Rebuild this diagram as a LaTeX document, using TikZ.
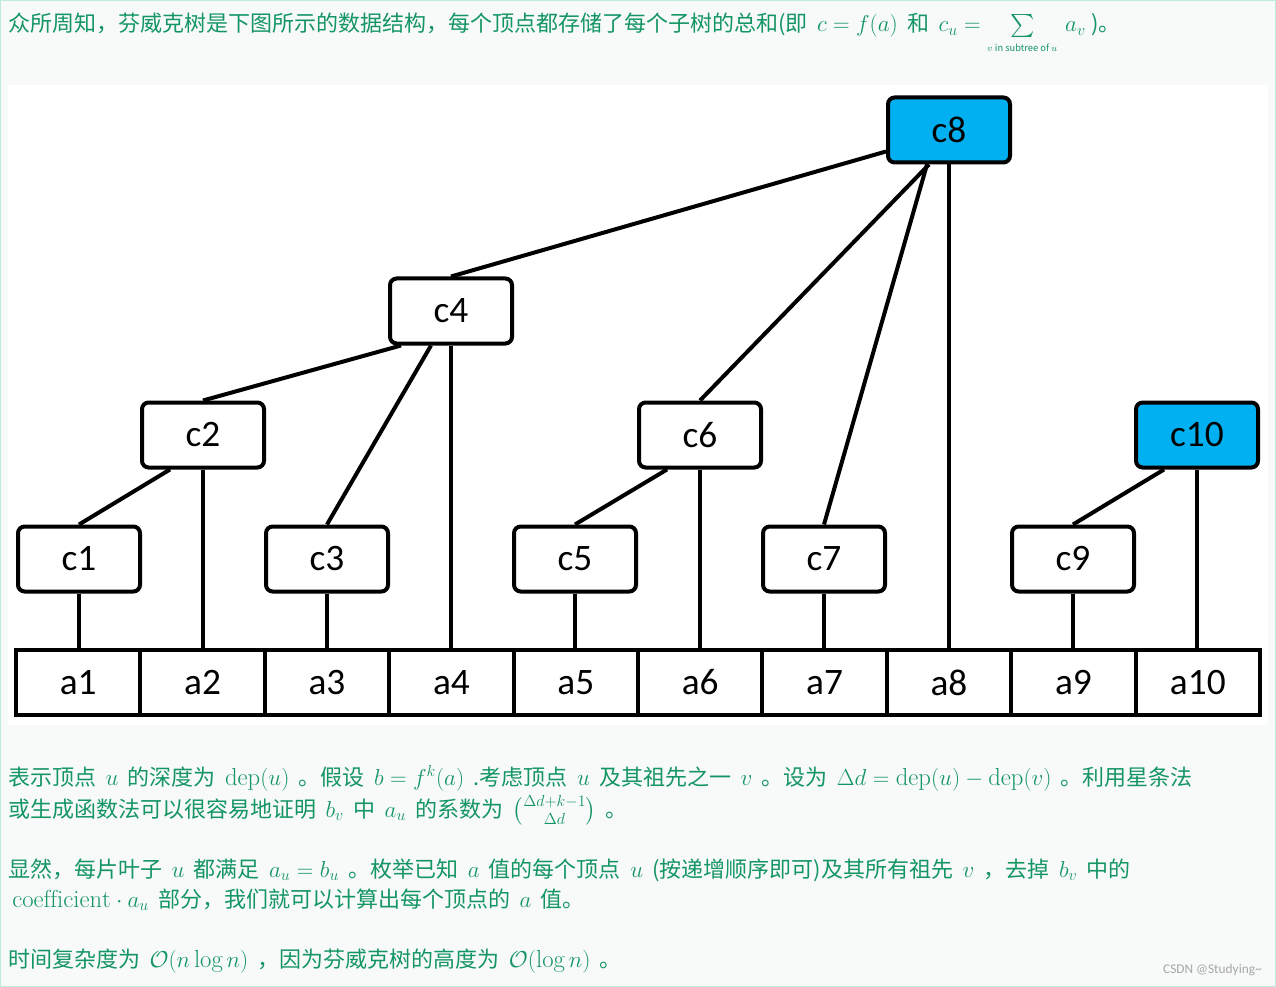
\documentclass[tikz,border=0pt]{standalone}
\usepackage{amsmath}
\usepackage{fontspec}
\setmainfont{Noto Sans CJK SC}
\setsansfont{Carlito}
\setmathrm{Latin Modern Roman}
\definecolor{tg}{RGB}{20,150,100}
\definecolor{cb}{RGB}{0,176,240}
\definecolor{pg}{RGB}{248,249,249}
\definecolor{bd}{RGB}{190,235,220}
\newcommand{\M}[1]{\hspace{7pt}{\fontsize{18.5}{20}\selectfont$#1$}\hspace{7pt}}
\begin{document}
\begin{tikzpicture}[x=0.75pt,y=-0.75pt,
 tn/.style={draw=black,line width=3pt,rounded corners=5pt,minimum width=126*0.75pt-3pt,minimum height=69*0.75pt-3pt,font=\sffamily\fontsize{28}{30}\selectfont,inner sep=0pt},
 an/.style={draw=black,line width=3pt,minimum width=124.4*0.75pt,minimum height=69*0.75pt-3pt,font=\sffamily\fontsize{28}{30}\selectfont,inner sep=0pt},
 ed/.style={line width=3pt},
 tx/.style={anchor=base west,text=tg,font=\fontsize{16.5}{18}\selectfont,inner sep=0pt}]
\useasboundingbox (0,0) rectangle (1276,987);
\fill[pg] (0,0) rectangle (1276,987);
\draw[bd,line width=1pt] (0.5,0.5) rectangle (1275.5,986.5);
\fill[white] (8,85) rectangle (1268,725);
% tree nodes
\node[tn,fill=cb] (c8) at (949,130) {c8};
\node[tn,fill=white] (c4) at (451,311) {c4};
\node[tn,fill=white] (c2) at (203,435) {c2};
\node[tn,fill=white] (c6) at (700,435) {c6};
\node[tn,fill=cb] (c10) at (1197,435) {c10};
\node[tn,fill=white] (c1) at (79,559) {c1};
\node[tn,fill=white] (c3) at (327,559) {c3};
\node[tn,fill=white] (c5) at (575,559) {c5};
\node[tn,fill=white] (c7) at (824,559) {c7};
\node[tn,fill=white] (c9) at (1073,559) {c9};
\foreach \i in {1,...,10}{
 \node[an,fill=white] (a\i) at ({16+124.4*(\i-0.5)},682.5) {a\i};
}
% edges
\draw[ed] (c8.south west) ++(0,-13) -- (c4.north);
\draw[ed] (c8.south) ++(-20,0) -- (c6.north);
\draw[ed] (c8.south) ++(-22,0) -- (c7.north);
\draw[ed] (c8.south) -- (c8.south |- a8.north);
\draw[ed] (c4.south) ++(-50,0) -- (c2.north);
\draw[ed] (c4.south) ++(-20,0) -- (c3.north);
\draw[ed] (c4.south) -- (c4.south |- a4.north);
\draw[ed] (c2.south) ++(-33,0) -- (c1.north);
\draw[ed] (c2.south) -- (c2.south |- a2.north);
\draw[ed] (c6.south) ++(-33,0) -- (c5.north);
\draw[ed] (c6.south) -- (c6.south |- a6.north);
\draw[ed] (c10.south) ++(-33,0) -- (c9.north);
\draw[ed] (c10.south) -- (c10.south |- a10.north);
\draw[ed] (c1.south) -- (c1.south |- a1.north);
\draw[ed] (c3.south) -- (c3.south |- a3.north);
\draw[ed] (c5.south) -- (c5.south |- a5.north);
\draw[ed] (c7.south) -- (c7.south |- a7.north);
\draw[ed] (c9.south) -- (c9.south |- a9.north);
% texts
\node[tx] (t1) at (8,32) {众所周知，芬威克树是下图所示的数据结构，每个顶点都存储了每个子树的总和(即\M{c=f(a)}和\M{c_u=\mathop{\sum}\limits_{\raisebox{0pt}{\scriptsize $v$ in subtree of $u$}}\,a_v}\hspace{-3pt})。};
\node[tx] (t2) at (8,785) {表示顶点\M{u}的深度为\M{\mathrm{dep}(u)}。假设\M{b=f^k(a)}.考虑顶点\M{u}及其祖先之一\M{v}。设为\M{\Delta d=\mathrm{dep}(u)-\mathrm{dep}(v)}。利用星条法};
\node[tx] (t3) at (8,817) {或生成函数法可以很容易地证明\M{b_v}中\M{a_u}的系数为\M{\binom{\Delta d+k-1}{\Delta d}}。};
\node[tx] (t4) at (8,877) {显然，每片叶子\M{u}都满足\M{a_u=b_u}。枚举已知\M{a}值的每个顶点\M{u}(按递增顺序即可)及其所有祖先\M{v}，去掉\M{b_v}中的};
\node[tx] (t5) at (12,907) {\hspace{-7pt}\M{\mathrm{coefficient}\cdot a_u}部分，我们就可以计算出每个顶点的\M{a}值。};
\node[tx] (t6) at (8,967) {时间复杂度为\M{\mathcal{O}(n\log n)}，因为芬威克树的高度为\M{\mathcal{O}(\log n)}。};
\node[anchor=east,text=gray!70,font=\sffamily\fontsize{10}{12}\selectfont,inner sep=0pt] (wm) at (1262,970) {CSDN @Studying\textasciitilde};
\end{tikzpicture}
\end{document}
